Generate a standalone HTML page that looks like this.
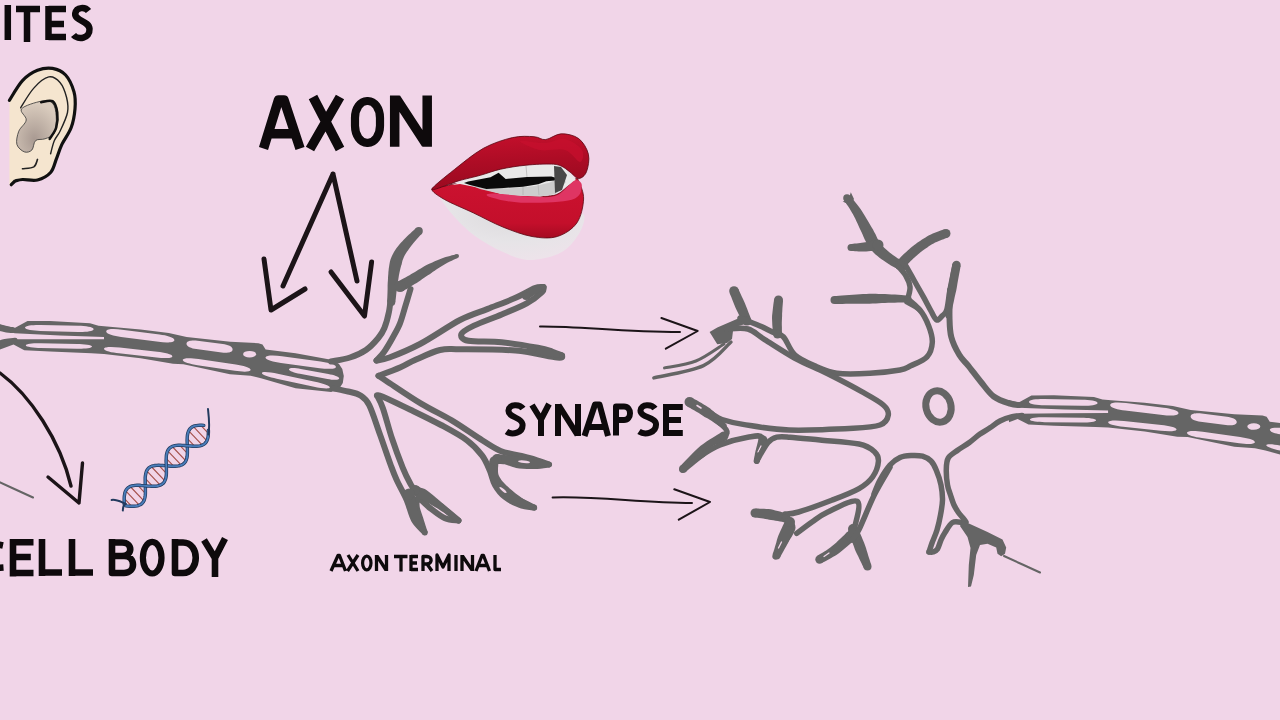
<!DOCTYPE html>
<html><head><meta charset="utf-8"><style>
html,body{margin:0;padding:0;background:#f1d5e8;width:1280px;height:720px;overflow:hidden}
svg{display:block}
</style></head><body>
<svg width="1280" height="720" viewBox="0 0 1280 720">
<rect width="1280" height="720" fill="#f1d5e8"/>
<g id="sheath"><path d="M0.0 324.3 L14.7 328.0 L27.5 321.1 L50.0 321.1 L90.0 323.2 L98.5 325.8 L107.0 326.6 L140.6 329.5 L168.8 333.0 L186.6 337.0 L230.3 341.8 L258.4 343.2 L262.5 344.5 L265.6 349.6 L295.6 353.2 L328.4 359.3 L334.0 360.8 L339.0 364.0 L342.3 369.0 L343.8 376.0 L342.8 383.0 L339.0 389.0 L331.2 392.0 L295.6 388.2 L261.0 378.3 L250.6 375.8 L230.0 374.2 L183.4 364.2 L173.0 363.7 L140.6 358.2 L104.0 354.0 L91.4 353.2 L50.0 351.6 L24.3 350.2 L13.5 344.5 L0.0 349.5 Z" fill="#656565"/>
<path d="M0.0 329.3 L14.7 333.3 L60.0 335.6 L104.0 337.0 L104.0 339.3 L60.0 339.2 L13.0 339.3 L0.0 344.3 Z" fill="#f1d5e8"/>
<path d="M-34.31 0 C-34.31 -2.28 -25.73 -3.04 -18.87 -3.04 L18.87 -3.04 C25.73 -3.04 34.31 -2.28 34.31 0 C34.31 2.28 25.73 3.04 18.87 3.04 L-18.87 3.04 C-25.73 3.04 -34.31 2.28 -34.31 0 Z" fill="#f1d5e8" transform="translate(59.30 328.40) rotate(1.34)"/>
<path d="M-33.11 0 C-33.11 -1.81 -24.83 -2.42 -18.21 -2.42 L18.21 -2.42 C24.83 -2.42 33.11 -1.81 33.11 0 C33.11 1.81 24.83 2.42 18.21 2.42 L-18.21 2.42 C-24.83 2.42 -33.11 1.81 -33.11 0 Z" fill="#f1d5e8" transform="translate(58.90 345.95) rotate(1.12)"/>
<path d="M-34.39 0 C-34.39 -2.76 -25.79 -3.68 -18.91 -3.68 L18.91 -3.68 C25.79 -3.68 34.39 -2.76 34.39 0 C34.39 2.76 25.79 3.68 18.91 3.68 L-18.91 3.68 C-25.79 3.68 -34.39 2.76 -34.39 0 Z" fill="#f1d5e8" transform="translate(140.30 335.75) rotate(7.43)"/>
<path d="M-34.37 0 C-34.37 -2.17 -25.77 -2.89 -18.90 -2.89 L18.90 -2.89 C25.77 -2.89 34.37 -2.17 34.37 0 C34.37 2.17 25.77 2.89 18.90 2.89 L-18.90 2.89 C-25.77 2.89 -34.37 2.17 -34.37 0 Z" fill="#f1d5e8" transform="translate(138.15 352.55) rotate(6.43)"/>
<path d="M-23.26 0 C-23.26 -3.15 -17.45 -4.20 -12.80 -4.20 L12.80 -4.20 C17.45 -4.20 23.26 -3.15 23.26 0 C23.26 3.15 17.45 4.20 12.80 4.20 L-12.80 4.20 C-17.45 4.20 -23.26 3.15 -23.26 0 Z" fill="#f1d5e8" transform="translate(209.55 346.55) rotate(7.78)"/>
<path d="M-34.33 0 C-34.33 -2.36 -25.75 -3.15 -18.88 -3.15 L18.88 -3.15 C25.75 -3.15 34.33 -2.36 34.33 0 C34.33 2.36 25.75 3.15 18.88 3.15 L-18.88 3.15 C-25.75 3.15 -34.33 2.36 -34.33 0 Z" fill="#f1d5e8" transform="translate(216.65 364.90) rotate(8.54)"/>
<path d="M-35.46 0 C-35.46 -2.56 -26.60 -3.41 -19.50 -3.41 L19.50 -3.41 C26.60 -3.41 35.46 -2.56 35.46 0 C35.46 2.56 26.60 3.41 19.50 3.41 L-19.50 3.41 C-26.60 3.41 -35.46 2.56 -35.46 0 Z" fill="#f1d5e8" transform="translate(300.75 362.20) rotate(7.62)"/>
<path d="M-25.54 0 C-25.54 -1.85 -19.15 -2.47 -14.04 -2.47 L14.04 -2.47 C19.15 -2.47 25.54 -1.85 25.54 0 C25.54 1.85 19.15 2.47 14.04 2.47 L-14.04 2.47 C-19.15 2.47 -25.54 1.85 -25.54 0 Z" fill="#f1d5e8" transform="translate(314.10 373.90) rotate(10.61)"/>
<path d="M-34.72 0 C-34.72 -1.85 -26.04 -2.47 -19.09 -2.47 L19.09 -2.47 C26.04 -2.47 34.72 -1.85 34.72 0 C34.72 1.85 26.04 2.47 19.09 2.47 L-19.09 2.47 C-26.04 2.47 -34.72 1.85 -34.72 0 Z" fill="#f1d5e8" transform="translate(295.85 380.25) rotate(12.05)"/>
<ellipse cx="249.6" cy="354.2" rx="6.5" ry="3.3" fill="#f1d5e8"/></g>
<clipPath id="rclip"><rect x="1009" y="300" width="300" height="200"/></clipPath>
<g clip-path="url(#rclip)"><use href="#sheath" transform="translate(1004,74.3) rotate(-0.5 25 329)"/></g>
<path d="M395.3 302.3 L395.5 300.6 L395.8 298.4 L396.1 295.7 L396.4 292.8 L396.8 289.8 L397.2 286.8 L397.6 284.0 L397.9 281.6 L398.3 279.5 L398.6 277.4 L398.9 275.4 L399.3 273.6 L399.6 271.9 L400.0 270.2 L400.4 268.6 L400.8 267.1 L401.2 265.6 L401.7 264.2 L401.9 262.9 L402.2 261.7 L402.5 260.5 L402.9 259.4 L403.4 258.2 L403.9 257.0 L404.5 255.8 L405.2 254.5 L406.0 253.2 L406.9 251.8 L407.9 250.4 L408.9 249.0 L410.0 247.5 L411.1 246.0 L412.3 244.5 L413.7 242.8 L415.2 241.1 L416.7 239.3 L418.3 237.6 L419.6 236.1 L420.8 234.8 L421.7 233.8 L415.9 228.2 L415.0 229.1 L413.7 230.2 L412.2 231.6 L410.5 233.2 L408.7 234.8 L406.9 236.5 L405.2 238.2 L403.7 239.8 L402.4 241.2 L401.1 242.6 L399.8 244.1 L398.6 245.6 L397.4 247.1 L396.2 248.6 L395.1 250.2 L394.1 251.8 L393.2 253.4 L392.4 254.9 L391.7 256.5 L391.1 258.0 L390.5 259.6 L390.0 261.2 L389.7 262.8 L389.4 264.5 L389.1 266.4 L388.8 268.2 L388.6 270.2 L388.4 272.1 L388.3 274.1 L388.1 276.2 L388.0 278.3 L387.9 280.6 L387.7 283.1 L387.6 286.0 L387.6 289.1 L387.5 292.2 L387.4 295.1 L387.4 297.8 L387.3 300.1 L387.3 301.7 Z" fill="#656565"/>
<circle cx="391.3" cy="302.0" r="4.0" fill="#656565"/>
<circle cx="418.8" cy="231.0" r="4.0" fill="#656565"/>
<path d="M402.7 291.3 L403.8 290.7 L405.1 289.8 L406.8 288.9 L408.7 287.7 L410.7 286.6 L412.7 285.3 L414.7 284.1 L416.7 282.9 L418.5 281.7 L420.4 280.4 L422.3 279.1 L424.2 277.8 L426.0 276.6 L427.9 275.3 L429.7 274.2 L431.4 273.0 L433.0 271.8 L434.7 270.7 L436.3 269.5 L437.9 268.5 L439.5 267.4 L441.1 266.4 L442.8 265.4 L444.4 264.5 L446.1 263.5 L447.9 262.6 L449.9 261.6 L451.8 260.7 L453.6 259.8 L455.3 259.0 L456.7 258.4 L457.7 257.9 L456.3 254.1 L455.2 254.4 L453.7 254.9 L451.9 255.3 L450.0 255.9 L447.9 256.5 L445.7 257.1 L443.6 257.8 L441.6 258.5 L439.8 259.2 L437.9 260.0 L436.0 260.7 L434.2 261.5 L432.3 262.4 L430.5 263.2 L428.6 264.1 L426.6 265.0 L424.7 266.0 L422.7 267.2 L420.8 268.4 L418.8 269.6 L416.9 270.8 L415.0 272.0 L413.1 273.1 L411.3 274.1 L409.5 275.2 L407.5 276.3 L405.4 277.4 L403.4 278.4 L401.5 279.5 L399.8 280.4 L398.4 281.1 L397.3 281.7 Z" fill="#656565"/>
<circle cx="400.0" cy="286.5" r="5.5" fill="#656565"/>
<circle cx="457.0" cy="256.0" r="2.0" fill="#656565"/>
<path d="M331.0 361.5 C334.2 360.8 344.2 359.4 350.0 357.5 C355.8 355.6 361.3 353.2 366.0 350.0 C370.7 346.8 375.2 341.7 378.3 338.0 C381.4 334.3 382.6 332.4 384.4 328.0 C386.2 323.6 387.9 317.2 389.0 311.7 C390.1 306.2 390.7 297.8 391.0 295.0" fill="none" stroke="#656565" stroke-width="6" stroke-linecap="round" stroke-linejoin="round"/>
<path d="M410.5 289.0 C409.7 291.8 407.3 299.8 405.5 305.6 C403.7 311.4 402.0 318.5 399.8 323.9 C397.6 329.3 395.1 333.3 392.5 338.0 C389.9 342.7 386.7 348.2 384.0 352.0 C381.3 355.8 377.8 359.1 376.5 360.5" fill="none" stroke="#656565" stroke-width="6" stroke-linecap="round" stroke-linejoin="round"/>
<path d="M376.5 360.5 C378.6 360.0 382.1 360.2 389.4 357.5 C396.6 354.8 408.2 350.2 420.0 344.0 C431.8 337.8 448.7 325.9 460.0 320.0 C471.3 314.1 478.5 312.6 487.8 308.9 C497.1 305.2 507.7 301.3 515.6 297.8 C523.5 294.3 530.4 289.8 535.0 288.0 C539.6 286.2 542.1 287.2 543.5 287.0" fill="none" stroke="#656565" stroke-width="6" stroke-linecap="round" stroke-linejoin="round"/>
<path d="M543.5 287.0 C543.2 287.8 544.8 289.3 542.0 292.0 C539.2 294.7 533.4 299.6 526.7 303.3 C520.0 307.0 510.5 310.7 501.7 314.4 C492.9 318.1 480.6 322.4 473.9 325.6 C467.2 328.9 462.3 331.4 461.4 333.9 C460.5 336.4 461.6 339.4 468.3 340.8 C475.0 342.2 490.1 341.0 501.7 342.2 C513.3 343.4 529.4 346.2 537.8 347.8 C546.2 349.4 548.0 350.2 552.0 351.5 C556.0 352.8 560.3 354.8 562.0 355.5" fill="none" stroke="#656565" stroke-width="6" stroke-linecap="round" stroke-linejoin="round"/>
<path d="M562.0 355.5 C561.2 355.8 564.9 358.3 557.2 357.5 C549.5 356.7 531.8 352.0 515.6 350.6 C499.4 349.2 472.6 349.3 460.0 349.2 C447.4 349.1 447.5 348.2 440.0 350.0 C432.5 351.8 421.6 357.1 415.0 360.0 C408.4 362.9 406.7 364.6 400.6 367.2 C394.5 369.8 382.2 374.4 378.5 375.8" fill="none" stroke="#656565" stroke-width="6" stroke-linecap="round" stroke-linejoin="round"/>
<path d="M378.5 375.8 C379.8 376.6 378.9 376.1 386.0 380.7 C393.1 385.3 410.2 397.0 421.1 403.6 C432.1 410.2 441.5 414.3 451.7 420.4 C461.9 426.5 474.0 435.2 482.2 440.3 C490.4 445.4 494.3 448.4 500.6 451.0 C506.9 453.6 514.3 454.2 520.0 455.6 C525.7 457.0 530.2 458.0 535.0 459.5 C539.8 461.0 546.7 463.7 549.0 464.5" fill="none" stroke="#656565" stroke-width="6" stroke-linecap="round" stroke-linejoin="round"/>
<path d="M549.0 464.5 C546.7 464.8 540.4 465.9 535.0 466.0 C529.6 466.1 523.2 466.2 516.7 465.0 C510.2 463.8 499.9 457.8 496.0 459.0 C492.1 460.2 493.2 468.0 493.5 472.0 C493.8 476.0 495.2 479.2 498.0 483.0 C500.8 486.8 504.0 490.9 510.0 495.0 C516.0 499.1 530.0 505.4 534.0 507.5" fill="none" stroke="#656565" stroke-width="6" stroke-linecap="round" stroke-linejoin="round"/>
<path d="M534.0 507.5 C531.7 507.1 524.8 506.8 520.0 505.0 C515.2 503.2 509.2 500.3 505.0 497.0 C500.8 493.7 497.5 489.4 495.0 485.0 C492.5 480.6 492.0 475.7 489.9 470.8 C487.8 465.9 486.0 460.7 482.2 455.6 C478.4 450.5 473.9 445.4 467.0 440.3 C460.1 435.2 450.4 430.1 441.0 425.0 C431.6 419.9 420.1 414.4 410.4 409.7 C400.7 405.0 388.5 399.1 382.9 396.7 C377.3 394.3 378.0 395.7 377.0 395.5" fill="none" stroke="#656565" stroke-width="6" stroke-linecap="round" stroke-linejoin="round"/>
<path d="M377.0 395.5 C378.0 397.6 380.4 401.0 382.9 408.2 C385.4 415.4 388.8 428.8 392.1 438.8 C395.4 448.7 399.8 460.4 402.8 467.8 C405.8 475.2 408.0 479.3 410.0 483.0 C412.0 486.7 412.8 488.6 415.0 490.0 C417.2 491.4 419.1 489.2 423.3 491.7 C427.5 494.2 434.1 500.2 440.0 505.0 C445.9 509.8 455.4 517.9 458.5 520.5" fill="none" stroke="#656565" stroke-width="6" stroke-linecap="round" stroke-linejoin="round"/>
<path d="M458.5 520.5 C456.2 520.1 449.8 520.4 445.0 518.3 C440.2 516.2 434.4 511.3 430.0 508.0 C425.6 504.7 420.5 498.5 418.3 498.3 C416.1 498.1 416.4 503.4 416.7 506.7 C417.0 510.0 418.7 513.8 420.0 518.0 C421.3 522.2 423.8 529.7 424.5 532.0" fill="none" stroke="#656565" stroke-width="6" stroke-linecap="round" stroke-linejoin="round"/>
<path d="M424.5 532.0 C422.8 530.0 417.0 525.3 414.0 520.0 C411.0 514.7 409.6 506.7 406.7 500.0 C403.8 493.3 399.4 485.9 396.7 480.0 C394.0 474.1 393.4 472.3 390.6 464.7 C387.8 457.1 383.5 444.1 379.9 434.2 C376.3 424.3 372.5 411.6 369.2 405.1 C365.9 398.6 363.5 397.5 360.0 395.2 C356.5 392.9 352.3 392.6 348.0 391.5 C343.7 390.4 336.3 389.0 334.0 388.5" fill="none" stroke="#656565" stroke-width="6" stroke-linecap="round" stroke-linejoin="round"/>
<path d="M528.1 299.4 L528.9 298.9 L529.9 298.1 L531.1 297.3 L532.5 296.3 L533.8 295.3 L535.2 294.4 L536.4 293.6 L537.5 292.9 L538.4 292.3 L539.4 291.8 L540.4 291.3 L541.4 290.9 L542.3 290.5 L543.2 290.1 L543.9 289.8 L544.5 289.6 L542.5 284.4 L542.0 284.6 L541.3 284.8 L540.4 285.0 L539.3 285.3 L538.2 285.7 L537.0 286.1 L535.8 286.6 L534.5 287.1 L533.2 287.7 L531.7 288.5 L530.2 289.3 L528.6 290.1 L527.1 290.9 L525.8 291.6 L524.7 292.2 L523.9 292.6 Z" fill="#656565"/>
<circle cx="526.0" cy="296.0" r="4.0" fill="#656565"/>
<circle cx="543.5" cy="287.0" r="2.8" fill="#656565"/>
<path d="M531.0 353.4 L532.3 353.6 L534.0 353.9 L536.0 354.2 L538.3 354.6 L540.6 354.9 L543.0 355.3 L545.2 355.7 L547.2 356.0 L549.2 356.3 L551.3 356.6 L553.3 356.9 L555.4 357.3 L557.2 357.5 L558.9 357.8 L560.3 358.0 L561.4 358.2 L562.6 352.8 L561.5 352.5 L560.1 352.1 L558.5 351.7 L556.6 351.2 L554.7 350.6 L552.7 350.1 L550.7 349.5 L548.8 349.0 L546.8 348.5 L544.6 347.9 L542.3 347.2 L540.0 346.6 L537.8 346.0 L535.8 345.4 L534.2 344.9 L533.0 344.6 Z" fill="#656565"/>
<circle cx="532.0" cy="349.0" r="4.5" fill="#656565"/>
<circle cx="562.0" cy="355.5" r="2.8" fill="#656565"/>
<path d="M496.6 464.0 L498.3 464.0 L500.6 464.1 L503.3 464.2 L506.3 464.3 L509.6 464.4 L512.9 464.5 L516.3 464.7 L519.6 464.9 L523.1 465.1 L527.1 465.4 L531.3 465.7 L535.6 466.0 L539.6 466.3 L543.3 466.6 L546.4 466.8 L548.7 467.0 L549.3 462.0 L547.0 461.6 L544.0 461.1 L540.3 460.5 L536.3 459.8 L532.1 459.0 L527.9 458.3 L524.0 457.7 L520.4 457.1 L517.1 456.6 L513.7 456.1 L510.3 455.7 L507.1 455.3 L504.1 454.9 L501.4 454.5 L499.1 454.2 L497.4 454.0 Z" fill="#656565"/>
<circle cx="497.0" cy="459.0" r="5.0" fill="#656565"/>
<circle cx="549.0" cy="464.5" r="2.5" fill="#656565"/>
<ellipse cx="524" cy="461.8" rx="6" ry="1.3" fill="#f1d5e8" transform="rotate(6 524 461.8)"/>
<path d="M489.5 460.8 L489.4 461.8 L489.3 463.3 L489.1 465.2 L488.8 467.4 L488.7 469.8 L488.7 472.3 L488.9 474.9 L489.5 477.3 L490.3 479.6 L491.2 481.6 L492.3 483.6 L493.5 485.5 L494.8 487.3 L496.3 489.1 L497.9 490.9 L499.6 492.6 L501.5 494.4 L503.7 496.0 L506.1 497.6 L508.6 499.0 L511.1 500.4 L513.6 501.7 L515.9 503.0 L518.2 504.1 L520.5 505.2 L522.8 506.1 L525.2 507.0 L527.4 507.8 L529.5 508.5 L531.4 509.1 L532.9 509.7 L534.1 510.1 L535.9 505.9 L534.8 505.3 L533.3 504.6 L531.6 503.7 L529.7 502.7 L527.7 501.6 L525.6 500.4 L523.7 499.2 L521.8 497.9 L519.9 496.5 L517.8 495.0 L515.7 493.4 L513.6 491.7 L511.6 490.0 L509.7 488.4 L508.0 486.8 L506.4 485.4 L505.0 484.0 L503.6 482.6 L502.4 481.3 L501.4 479.9 L500.5 478.6 L499.7 477.2 L499.0 475.9 L498.5 474.7 L498.2 473.4 L498.0 471.8 L498.0 469.9 L498.0 468.0 L498.2 466.0 L498.3 464.2 L498.4 462.5 L498.5 461.2 Z" fill="#656565"/>
<circle cx="494.0" cy="461.0" r="4.5" fill="#656565"/>
<circle cx="535.0" cy="508.0" r="2.2" fill="#656565"/>
<ellipse cx="503" cy="490" rx="4.5" ry="1.2" fill="#f1d5e8" transform="rotate(40 503 490)"/>
<path d="M412.3 494.2 L414.4 495.4 L417.1 496.9 L420.4 498.7 L424.0 500.7 L427.8 502.8 L431.5 504.9 L434.9 507.0 L438.0 508.8 L440.8 510.7 L443.7 512.6 L446.6 514.7 L449.3 516.7 L451.9 518.5 L454.2 520.2 L456.1 521.7 L457.6 522.8 L460.4 519.2 L459.1 518.0 L457.3 516.4 L455.2 514.5 L452.8 512.3 L450.2 510.0 L447.5 507.7 L444.8 505.4 L442.0 503.2 L439.0 500.9 L435.7 498.4 L432.2 495.9 L428.6 493.4 L425.2 491.0 L422.1 488.9 L419.6 487.1 L417.7 485.8 Z" fill="#656565"/>
<circle cx="415.0" cy="490.0" r="5.0" fill="#656565"/>
<circle cx="459.0" cy="521.0" r="2.2" fill="#656565"/>
<path d="M403.7 495.4 L404.2 497.0 L404.9 499.1 L405.8 501.7 L406.7 504.6 L407.8 507.7 L408.9 510.7 L410.1 513.7 L411.3 516.5 L412.7 519.1 L414.3 521.8 L416.0 524.4 L417.7 526.9 L419.3 529.2 L420.8 531.3 L422.0 533.0 L422.8 534.3 L427.2 531.7 L426.4 530.3 L425.5 528.4 L424.3 526.2 L423.1 523.7 L421.8 521.1 L420.6 518.5 L419.5 515.9 L418.7 513.5 L417.9 511.0 L417.3 508.2 L416.6 505.2 L416.0 502.2 L415.5 499.2 L415.1 496.6 L414.6 494.3 L414.3 492.6 Z" fill="#656565"/>
<circle cx="409.0" cy="494.0" r="5.5" fill="#656565"/>
<circle cx="425.0" cy="533.0" r="2.5" fill="#656565"/>
<g id="nbody"><path d="M751.1 319.2 L750.6 317.9 L750.0 316.2 L749.2 314.2 L748.3 311.9 L747.4 309.6 L746.5 307.2 L745.6 304.9 L744.8 302.9 L743.9 301.0 L743.0 299.0 L742.0 297.0 L741.1 295.1 L740.3 293.2 L739.5 291.6 L738.9 290.2 L738.4 289.1 L729.6 292.9 L730.1 293.9 L730.6 295.4 L731.3 297.1 L732.0 298.9 L732.8 301.0 L733.6 303.0 L734.4 305.1 L735.2 307.1 L736.1 309.1 L737.2 311.3 L738.3 313.6 L739.4 315.8 L740.5 318.0 L741.5 319.9 L742.3 321.6 L742.9 322.8 Z" fill="#656565"/>
<circle cx="747.0" cy="321.0" r="4.5" fill="#656565"/>
<circle cx="734.0" cy="291.0" r="4.8" fill="#656565"/>
<path d="M782.0 333.8 L782.0 332.6 L781.9 330.9 L781.9 329.0 L781.9 326.9 L781.8 324.7 L781.8 322.4 L781.9 320.2 L782.0 318.1 L782.1 316.0 L782.1 313.6 L782.3 311.0 L782.4 308.4 L782.6 306.0 L782.8 303.7 L782.9 301.8 L783.0 300.4 L774.0 299.6 L773.9 301.0 L773.6 302.8 L773.3 305.1 L773.0 307.6 L772.7 310.2 L772.4 312.9 L772.1 315.4 L772.0 317.9 L772.1 320.2 L772.2 322.6 L772.3 325.0 L772.5 327.3 L772.6 329.5 L772.8 331.4 L772.9 333.0 L773.0 334.2 Z" fill="#656565"/>
<circle cx="777.5" cy="334.0" r="4.5" fill="#656565"/>
<circle cx="778.5" cy="300.0" r="4.5" fill="#656565"/>
<path d="M709.6 332.0 L717.3 327.4 L738.7 318.2 L746.0 316.0 L749.0 323.0 L735.0 327.0 L727.0 329.5 L733.0 331.0 L732.0 339.0 L727.0 343.0 L717.3 344.2 Z" fill="#656565"/>
<path d="M740.0 318.0 C743.3 319.3 754.6 323.7 760.0 326.0 C765.4 328.3 768.4 330.2 772.3 332.0 C776.2 333.8 779.5 332.9 783.3 336.7 C787.1 340.5 789.4 350.0 795.0 355.0 C800.6 360.0 809.8 363.6 816.7 366.7 C823.7 369.8 827.8 372.2 836.7 373.3 C845.6 374.4 859.5 373.9 870.0 373.3 C880.5 372.8 893.2 371.2 900.0 370.0 C906.8 368.8 906.2 368.0 910.7 365.8 C915.2 363.6 923.4 360.7 927.0 356.8 C930.6 352.9 932.0 347.4 932.3 342.3 C932.6 337.2 930.8 331.4 928.7 326.0 C926.6 320.6 923.3 313.9 919.7 309.9 C916.1 305.9 909.1 303.3 907.0 302.0" fill="none" stroke="#656565" stroke-width="5.5" stroke-linecap="round" stroke-linejoin="round"/>
<path d="M726.5 329.0 C730.1 329.0 741.5 327.2 747.9 329.0 C754.3 330.8 756.9 334.7 764.7 339.6 C772.6 344.5 785.8 353.2 795.0 358.3 C804.2 363.4 813.0 366.7 820.0 370.0 C827.0 373.3 829.8 374.7 836.7 378.3 C843.7 381.9 853.9 387.2 861.7 391.7 C869.5 396.1 878.9 401.1 883.3 405.0 C887.7 408.9 888.8 411.7 888.3 415.0 C887.8 418.3 885.8 422.8 880.0 425.0 C874.2 427.2 868.5 427.5 853.3 428.3 C838.1 429.1 807.4 430.6 789.0 430.0 C770.6 429.4 754.2 426.1 743.0 424.4 C731.8 422.6 727.2 421.2 722.0 419.5 C716.8 417.8 715.7 416.2 712.0 414.0 C708.3 411.8 702.0 407.3 700.0 406.0" fill="none" stroke="#656565" stroke-width="5.5" stroke-linecap="round" stroke-linejoin="round"/>
<path d="M724.0 344.0 C719.3 346.8 705.8 357.0 695.9 361.0 C686.0 365.0 669.7 366.8 664.5 367.9" fill="none" stroke="#656565" stroke-width="3.0" stroke-linecap="round" stroke-linejoin="round"/>
<path d="M731.0 342.0 C726.4 345.9 716.4 359.6 703.5 365.6 C690.6 371.6 662.1 375.8 653.8 377.9" fill="none" stroke="#656565" stroke-width="3.4" stroke-linecap="round" stroke-linejoin="round"/>
<path d="M687.1 406.4 L687.9 406.8 L688.9 407.4 L690.2 408.1 L691.6 408.9 L693.0 409.7 L694.5 410.5 L696.0 411.4 L697.4 412.3 L698.8 413.1 L700.2 414.0 L701.7 415.0 L703.2 415.9 L704.6 416.9 L706.2 417.8 L707.8 418.6 L709.3 419.5 L711.0 420.5 L712.8 421.7 L714.6 422.9 L716.5 424.2 L718.3 425.4 L719.9 426.5 L721.2 427.4 L722.2 428.1 L725.8 423.9 L724.9 423.0 L723.8 421.8 L722.5 420.4 L721.0 418.8 L719.4 417.2 L717.8 415.5 L716.2 413.9 L714.7 412.5 L713.2 411.1 L711.7 409.9 L710.2 408.6 L708.7 407.6 L707.1 406.6 L705.6 405.6 L704.1 404.7 L702.6 403.7 L701.1 402.8 L699.5 401.9 L698.0 401.0 L696.4 400.1 L695.0 399.4 L693.8 398.7 L692.7 398.1 L691.9 397.6 Z" fill="#656565"/>
<circle cx="689.5" cy="402.0" r="5.0" fill="#656565"/>
<circle cx="724.0" cy="426.0" r="2.8" fill="#656565"/>
<path d="M697 405.5 L701 408" stroke="#f1d5e8" stroke-width="1.5" stroke-linecap="round"/>
<path d="M716.0 420.0 C717.8 422.1 728.0 428.3 727.0 432.8 C726.0 437.3 717.4 440.9 710.0 447.0 C702.6 453.1 687.1 465.8 682.5 469.5" fill="none" stroke="#656565" stroke-width="5.5" stroke-linecap="round" stroke-linejoin="round"/>
<path d="M721.5 432.3 L719.9 433.3 L717.8 434.5 L715.4 436.0 L712.6 437.8 L709.6 439.6 L706.5 441.6 L703.5 443.7 L700.6 445.8 L697.8 448.2 L694.9 451.0 L691.9 453.9 L689.0 456.9 L686.3 459.8 L683.9 462.3 L681.8 464.5 L680.3 466.1 L685.7 471.9 L687.4 470.5 L689.7 468.6 L692.5 466.3 L695.5 463.8 L698.6 461.3 L701.8 458.7 L704.8 456.4 L707.4 454.2 L709.9 452.1 L712.6 450.0 L715.3 447.9 L718.1 445.9 L720.7 444.0 L723.0 442.3 L725.0 440.8 L726.5 439.7 Z" fill="#656565"/>
<circle cx="724.0" cy="436.0" r="4.5" fill="#656565"/>
<circle cx="683.0" cy="469.0" r="4.0" fill="#656565"/>
<path d="M699 455 L716 445" stroke="#f1d5e8" stroke-width="1.3" stroke-linecap="round"/>
<path d="M682.5 469.5 C685.2 467.4 692.8 461.1 699.0 457.0 C705.2 452.9 711.9 448.3 720.0 445.0 C728.1 441.7 740.8 438.3 747.8 437.2 C754.8 436.1 760.7 434.3 762.2 438.3 C763.7 442.3 757.6 457.2 756.7 461.0" fill="none" stroke="#656565" stroke-width="5.5" stroke-linecap="round" stroke-linejoin="round"/>
<path d="M758.7 438.6 L758.5 439.5 L758.1 440.8 L757.7 442.4 L757.3 444.1 L756.8 445.9 L756.3 447.7 L755.9 449.4 L755.5 451.0 L755.2 452.4 L754.9 453.8 L754.7 455.2 L754.4 456.5 L754.2 457.7 L754.0 458.7 L753.9 459.6 L753.8 460.3 L759.6 461.7 L759.8 461.0 L760.1 460.2 L760.4 459.2 L760.8 458.0 L761.2 456.8 L761.6 455.6 L762.0 454.3 L762.5 453.0 L763.0 451.7 L763.6 450.1 L764.3 448.5 L765.0 446.8 L765.7 445.1 L766.3 443.6 L766.9 442.4 L767.3 441.4 Z" fill="#656565"/>
<circle cx="763.0" cy="440.0" r="4.5" fill="#656565"/>
<circle cx="756.7" cy="461.0" r="3.0" fill="#656565"/>
<path d="M758 452 L761 446" stroke="#f1d5e8" stroke-width="1.3" stroke-linecap="round"/>
<path d="M756.7 461.0 C758.6 458.0 764.5 446.8 767.8 442.8 C771.1 438.8 773.0 438.1 776.7 437.2 C780.4 436.3 782.8 436.7 790.0 437.2 C797.2 437.7 808.5 438.9 820.0 440.0 C831.5 441.1 849.9 442.1 859.0 444.0 C868.1 445.9 871.3 448.8 874.5 451.7 C877.7 454.6 878.7 457.2 878.4 461.4 C878.1 465.6 875.8 472.5 872.6 477.0 C869.4 481.5 865.8 484.7 859.0 488.6 C852.2 492.5 841.8 496.4 831.7 500.3 C821.6 504.2 806.4 509.7 798.6 512.0 C790.8 514.3 787.3 513.7 785.0 514.0" fill="none" stroke="#656565" stroke-width="5.5" stroke-linecap="round" stroke-linejoin="round"/>
<path d="M754.6 517.5 L755.8 517.6 L757.3 517.8 L759.1 518.1 L761.1 518.3 L763.2 518.6 L765.3 518.9 L767.3 519.3 L769.2 519.7 L771.1 520.0 L773.3 520.3 L775.6 520.7 L777.8 521.1 L780.0 521.5 L782.0 521.8 L783.7 522.2 L785.0 522.4 L787.0 513.6 L785.8 513.3 L784.2 512.8 L782.2 512.2 L780.0 511.6 L777.7 511.0 L775.3 510.4 L773.0 509.8 L770.8 509.3 L768.6 509.1 L766.4 509.0 L764.1 508.8 L761.9 508.7 L759.9 508.7 L758.0 508.6 L756.5 508.6 L755.4 508.5 Z" fill="#656565"/>
<circle cx="755.0" cy="513.0" r="4.5" fill="#656565"/>
<circle cx="786.0" cy="518.0" r="4.5" fill="#656565"/>
<path d="M785.0 517.0 C786.3 518.8 793.1 522.8 792.8 527.5 C792.5 532.2 785.9 540.1 783.0 545.0 C780.1 549.9 776.6 554.8 775.3 556.7" fill="none" stroke="#656565" stroke-width="5.5" stroke-linecap="round" stroke-linejoin="round"/>
<path d="M785.3 520.2 L784.7 521.6 L783.9 523.4 L782.9 525.6 L781.8 528.1 L780.6 530.6 L779.5 533.1 L778.4 535.6 L777.6 537.8 L776.9 540.0 L776.3 542.4 L775.6 544.7 L774.9 547.0 L774.3 549.2 L773.7 551.1 L773.2 552.7 L772.8 553.9 L780.2 557.1 L780.8 555.9 L781.6 554.5 L782.6 552.7 L783.7 550.7 L784.9 548.6 L786.1 546.5 L787.3 544.3 L788.4 542.2 L789.4 539.9 L790.3 537.4 L791.1 534.7 L792.0 532.0 L792.8 529.5 L793.6 527.2 L794.2 525.2 L794.7 523.8 Z" fill="#656565"/>
<circle cx="790.0" cy="522.0" r="5.0" fill="#656565"/>
<circle cx="776.5" cy="555.5" r="4.0" fill="#656565"/>
<path d="M778.5 548 L781.5 542" stroke="#f1d5e8" stroke-width="1.3" stroke-linecap="round"/>
<path d="M796.7 533.4 C799.2 531.5 806.8 525.6 812.0 522.0 C817.2 518.4 820.3 515.5 827.8 512.0 C835.3 508.6 852.5 499.0 857.0 501.3 C861.5 503.6 856.6 519.0 855.0 525.6 C853.4 532.2 848.6 538.6 847.3 541.2" fill="none" stroke="#656565" stroke-width="5.5" stroke-linecap="round" stroke-linejoin="round"/>
<path d="M847.3 531.9 L846.1 533.1 L844.5 534.7 L842.6 536.5 L840.5 538.5 L838.3 540.6 L836.1 542.7 L834.0 544.6 L832.1 546.1 L830.3 547.5 L828.2 549.0 L826.1 550.4 L824.0 551.7 L822.0 553.0 L820.1 554.1 L818.5 555.1 L817.3 555.8 L821.7 563.2 L822.8 562.5 L824.4 561.7 L826.3 560.7 L828.5 559.5 L830.8 558.2 L833.2 556.8 L835.6 555.4 L837.9 553.9 L840.2 552.2 L842.6 550.3 L845.0 548.3 L847.4 546.3 L849.7 544.3 L851.7 542.6 L853.4 541.1 L854.7 540.1 Z" fill="#656565"/>
<circle cx="851.0" cy="536.0" r="5.5" fill="#656565"/>
<circle cx="819.5" cy="559.5" r="4.2" fill="#656565"/>
<path d="M824 556.5 L829 553" stroke="#f1d5e8" stroke-width="1.3" stroke-linecap="round"/>
<path d="M848.3 530.8 L848.9 532.4 L849.7 534.7 L850.6 537.4 L851.7 540.3 L852.8 543.4 L853.9 546.5 L854.9 549.4 L856.0 551.9 L857.1 554.3 L858.3 556.6 L859.4 559.0 L860.5 561.2 L861.5 563.3 L862.4 565.2 L863.2 566.8 L863.8 568.0 L871.2 565.0 L870.8 563.7 L870.3 562.1 L869.7 560.1 L869.0 557.9 L868.2 555.5 L867.5 553.0 L866.7 550.5 L866.0 548.1 L865.1 545.5 L864.0 542.6 L862.7 539.6 L861.5 536.6 L860.3 533.7 L859.2 531.1 L858.3 528.9 L857.7 527.2 Z" fill="#656565"/>
<circle cx="853.0" cy="529.0" r="5.0" fill="#656565"/>
<circle cx="867.5" cy="566.5" r="4.0" fill="#656565"/>
<path d="M846.0 536.0 L852.0 524.0 L858.0 536.0 Z" fill="#656565"/>
<path d="M890.0 467.2 C887.4 471.8 879.7 484.1 874.5 494.5 C869.3 504.9 862.8 521.9 859.0 529.5 C855.2 537.1 853.2 538.2 852.0 540.0" fill="none" stroke="#656565" stroke-width="5.5" stroke-linecap="round" stroke-linejoin="round"/>
<path d="M874.0 494.0 C875.0 491.7 877.3 484.8 880.0 480.0 C882.7 475.2 886.7 468.8 890.0 465.0 C893.3 461.2 896.5 459.1 900.0 457.5 C903.5 455.9 907.2 455.7 911.0 455.5 C914.8 455.3 919.2 455.3 922.5 456.2 C925.8 457.2 928.7 458.7 931.0 461.0 C933.3 463.3 934.6 466.0 936.2 470.0 C937.9 474.0 940.0 480.0 941.0 485.0 C942.0 490.0 942.6 495.0 942.5 500.0 C942.4 505.0 941.4 510.0 940.5 515.0 C939.6 520.0 938.4 525.3 937.0 530.0 C935.6 534.7 933.3 539.3 932.0 543.0 C930.7 546.7 929.5 550.5 929.0 552.0" fill="none" stroke="#656565" stroke-width="5.5" stroke-linecap="round" stroke-linejoin="round"/>
<path d="M929.0 552.0 C929.7 552.0 931.6 552.5 933.0 552.0 C934.4 551.5 936.2 551.0 937.5 549.0 C938.8 547.0 939.8 542.8 941.0 540.0 C942.2 537.2 943.1 535.4 945.0 532.5 C946.9 529.6 949.6 524.2 952.5 522.5 C955.4 520.8 960.8 522.5 962.5 522.5" fill="none" stroke="#656565" stroke-width="5.5" stroke-linecap="round" stroke-linejoin="round"/>
<path d="M1022.0 415.5 C1020.4 415.7 1015.9 415.8 1012.2 416.7 C1008.5 417.6 1003.7 419.1 1000.0 421.0 C996.3 422.9 993.3 425.6 990.0 427.8 C986.7 430.0 983.4 431.6 980.0 434.0 C976.6 436.4 973.1 439.8 969.4 442.5 C965.7 445.2 961.5 447.4 958.0 450.0 C954.5 452.6 950.2 454.7 948.3 458.0 C946.3 461.3 946.4 465.5 946.3 470.0 C946.2 474.5 946.8 480.9 947.5 485.0 C948.2 489.1 949.2 491.1 950.3 494.4 C951.4 497.7 952.6 502.0 954.0 505.0 C955.4 508.0 956.9 510.3 958.4 512.5 C959.9 514.7 961.7 516.4 963.0 518.0 C964.3 519.6 965.5 521.3 966.0 522.0" fill="none" stroke="#656565" stroke-width="5.5" stroke-linecap="round" stroke-linejoin="round"/>
<path d="M962.5 520.5 L970.0 524.0 L987.5 532.0 L1002.5 539.5 L1006.2 547.5 L1005.0 553.8 L1001.2 556.2 L997.5 553.8 L996.2 547.5 L987.5 543.8 L980.0 545.0 L976.2 555.0 L973.8 575.0 L971.0 586.5 L968.0 587.0 L968.8 565.0 L970.5 548.0 L967.5 537.0 L960.0 526.0 Z" fill="#656565"/>
<path d="M1004.0 556.0 C1010.0 558.8 1034.0 569.8 1040.0 572.5" fill="none" stroke="#656565" stroke-width="2.0" stroke-linecap="round" stroke-linejoin="round"/>
<path d="M950.0 290.0 C949.9 294.5 949.3 309.2 949.5 317.0 C949.7 324.8 949.6 330.7 951.3 337.0 C952.9 343.3 956.5 350.2 959.4 355.0 C962.2 359.8 964.8 361.3 968.4 365.8 C972.0 370.3 976.8 376.9 981.0 382.0 C985.2 387.1 988.9 392.9 993.7 396.5 C998.5 400.1 1005.7 402.3 1010.0 403.7 C1014.3 405.1 1017.8 404.8 1019.4 405.0" fill="none" stroke="#656565" stroke-width="6" stroke-linecap="round" stroke-linejoin="round"/>
<path d="M842.6 201.5 L848.5 200.0 L850.8 192.2 L854.0 199.0 L850.0 205.0 Z" fill="#656565"/>
<path d="M844.0 200.2 L844.7 201.3 L845.7 202.8 L846.8 204.5 L848.1 206.3 L849.4 208.3 L850.7 210.4 L851.9 212.4 L853.1 214.4 L854.1 216.4 L855.2 218.6 L856.3 220.9 L857.4 223.2 L858.4 225.6 L859.5 228.0 L860.6 230.3 L861.7 232.6 L862.7 234.8 L863.6 237.0 L864.6 239.3 L865.8 241.5 L867.1 243.8 L868.4 246.1 L869.9 248.3 L871.6 250.5 L873.5 252.5 L875.5 254.4 L877.5 256.1 L879.5 257.7 L881.5 259.2 L883.5 260.6 L885.3 261.8 L887.1 263.0 L889.0 264.2 L890.9 265.4 L892.8 266.4 L894.6 267.4 L896.3 268.2 L897.7 268.9 L898.9 269.5 L899.8 269.9 L904.2 262.1 L903.2 261.5 L902.0 260.8 L900.6 260.0 L899.1 259.1 L897.5 258.2 L895.9 257.1 L894.4 256.1 L892.9 255.0 L891.3 253.7 L889.6 252.4 L887.9 251.0 L886.2 249.5 L884.5 248.1 L883.0 246.6 L881.6 245.0 L880.4 243.5 L879.3 241.9 L878.3 240.2 L877.3 238.3 L876.4 236.2 L875.4 234.1 L874.2 231.9 L873.0 229.6 L871.7 227.4 L870.4 225.2 L869.1 223.0 L867.8 220.7 L866.4 218.4 L865.1 216.2 L863.7 213.9 L862.3 211.7 L860.9 209.6 L859.4 207.5 L857.9 205.4 L856.3 203.4 L854.7 201.4 L853.2 199.6 L851.9 198.1 L850.8 196.8 L850.0 195.8 Z" fill="#656565"/>
<circle cx="847.0" cy="198.0" r="3.8" fill="#656565"/>
<circle cx="902.0" cy="266.0" r="4.5" fill="#656565"/>
<path d="M877.2 239.6 L876.1 239.8 L874.6 240.1 L872.9 240.6 L871.1 241.0 L869.1 241.4 L867.1 241.9 L865.3 242.2 L863.6 242.6 L861.9 242.8 L860.2 243.1 L858.3 243.3 L856.5 243.5 L854.8 243.6 L853.2 243.8 L851.9 243.9 L850.9 244.0 L851.1 251.0 L852.1 251.0 L853.4 251.1 L855.0 251.2 L856.7 251.3 L858.6 251.4 L860.6 251.4 L862.5 251.5 L864.4 251.4 L866.3 251.4 L868.4 251.3 L870.5 251.1 L872.6 250.9 L874.5 250.8 L876.3 250.6 L877.7 250.5 L878.8 250.4 Z" fill="#656565"/>
<circle cx="878.0" cy="245.0" r="5.5" fill="#656565"/>
<circle cx="851.0" cy="247.5" r="3.5" fill="#656565"/>
<path d="M903.6 268.5 L904.3 267.7 L905.4 266.6 L906.6 265.4 L907.9 264.0 L909.3 262.5 L910.7 261.1 L912.1 259.8 L913.3 258.6 L914.5 257.5 L915.6 256.4 L916.8 255.4 L917.9 254.4 L919.1 253.5 L920.2 252.5 L921.5 251.5 L922.8 250.6 L924.2 249.5 L925.7 248.5 L927.3 247.4 L928.8 246.3 L930.4 245.3 L932.0 244.3 L933.6 243.4 L935.1 242.6 L936.6 241.9 L938.3 241.2 L940.1 240.4 L941.9 239.8 L943.6 239.2 L945.1 238.6 L946.5 238.1 L947.5 237.7 L944.5 229.3 L943.5 229.6 L942.2 230.0 L940.6 230.6 L938.8 231.2 L936.8 231.9 L934.8 232.7 L932.8 233.5 L930.9 234.4 L929.1 235.3 L927.3 236.3 L925.5 237.4 L923.8 238.4 L922.0 239.6 L920.4 240.7 L918.8 241.8 L917.2 242.8 L915.7 243.9 L914.3 245.0 L913.0 246.0 L911.7 247.0 L910.5 248.1 L909.2 249.2 L908.0 250.3 L906.7 251.4 L905.3 252.7 L903.8 254.1 L902.3 255.6 L900.8 257.1 L899.5 258.4 L898.2 259.7 L897.2 260.7 L896.4 261.5 Z" fill="#656565"/>
<circle cx="900.0" cy="265.0" r="5.0" fill="#656565"/>
<circle cx="946.0" cy="233.5" r="4.5" fill="#656565"/>
<path d="M898.0 266.0 C899.3 267.7 904.0 272.6 906.0 276.0 C908.0 279.4 909.6 283.2 910.0 286.7 C910.4 290.2 908.6 295.3 908.3 297.0" fill="none" stroke="#656565" stroke-width="5.5" stroke-linecap="round" stroke-linejoin="round"/>
<path d="M906.0 266.0 C907.5 268.7 912.1 276.9 915.0 282.0 C917.9 287.1 920.6 291.9 923.3 296.7 C926.0 301.5 928.8 307.1 931.0 311.0 C933.2 314.9 934.9 319.2 936.7 320.0 C938.5 320.8 940.3 317.7 942.0 316.0 C943.7 314.3 945.4 314.3 946.7 310.0 C948.0 305.7 948.6 297.5 950.0 290.0 C951.4 282.5 954.2 269.2 955.0 265.0" fill="none" stroke="#656565" stroke-width="5.5" stroke-linecap="round" stroke-linejoin="round"/>
<path d="M952.3 264.2 L952.0 266.2 L951.5 268.7 L950.9 271.7 L950.3 275.1 L949.7 278.7 L949.0 282.4 L948.4 285.9 L947.8 289.3 L947.5 292.7 L947.1 296.5 L946.8 300.3 L946.5 304.1 L946.2 307.7 L945.9 310.9 L945.7 313.6 L945.5 315.6 L950.5 316.4 L950.9 314.4 L951.5 311.7 L952.2 308.6 L953.0 305.1 L953.8 301.4 L954.6 297.6 L955.4 294.0 L956.2 290.7 L956.8 287.4 L957.4 283.8 L958.0 280.2 L958.7 276.6 L959.3 273.3 L959.9 270.2 L960.3 267.7 L960.7 265.8 Z" fill="#656565"/>
<circle cx="956.5" cy="265.0" r="4.2" fill="#656565"/>
<circle cx="948.0" cy="316.0" r="2.5" fill="#656565"/>
<path d="M834.7 304.0 L836.6 304.0 L839.3 303.9 L842.4 303.9 L845.9 303.8 L849.5 303.8 L853.2 303.7 L856.8 303.7 L860.1 303.7 L863.3 303.7 L866.5 303.7 L869.6 303.7 L872.8 303.6 L875.9 303.4 L879.0 303.2 L882.0 303.1 L885.0 302.9 L888.1 302.8 L891.4 302.7 L894.7 302.7 L898.0 302.6 L901.0 302.6 L903.8 302.6 L906.1 302.5 L907.9 302.5 L908.1 295.5 L906.3 295.4 L904.0 295.2 L901.3 295.0 L898.2 294.8 L894.9 294.6 L891.5 294.4 L888.2 294.2 L885.0 294.1 L881.9 293.9 L878.8 293.9 L875.7 293.8 L872.5 293.7 L869.4 293.8 L866.2 294.0 L863.0 294.1 L859.9 294.3 L856.5 294.5 L852.9 294.7 L849.2 295.0 L845.5 295.2 L842.0 295.5 L838.9 295.7 L836.3 295.9 L834.3 296.0 Z" fill="#656565"/>
<circle cx="834.5" cy="300.0" r="4.0" fill="#656565"/>
<circle cx="908.0" cy="299.0" r="3.5" fill="#656565"/>
<path d="M908.0 299.0 C909.2 300.0 913.0 303.2 915.0 305.0 C917.0 306.8 918.9 309.1 919.7 309.9" fill="none" stroke="#656565" stroke-width="5.5" stroke-linecap="round" stroke-linejoin="round"/>
<ellipse cx="938.5" cy="406.5" rx="12.5" ry="15.8" fill="none" stroke="#656565" stroke-width="7" transform="rotate(-14 938.5 406.5)"/></g>
<use href="#nbody" transform="translate(-1007,-75)"/>
<defs><radialGradient id="conch" cx="0.45" cy="0.75" r="0.7"><stop offset="0" stop-color="#a99a92"/><stop offset="1" stop-color="#d9cbbd"/></radialGradient><linearGradient id="lipshade" x1="0" y1="0" x2="0" y2="1"><stop offset="0" stop-color="#a00a20"/><stop offset="1" stop-color="#c8102e"/></linearGradient></defs>
<path d="M9.4 100.3 C11.6 97.0 17.8 85.6 22.5 80.6 C27.2 75.6 32.5 72.3 37.5 70.3 C42.5 68.3 47.8 67.6 52.5 68.4 C57.2 69.2 62.0 71.1 65.6 75.0 C69.2 78.9 72.4 86.3 74.0 91.9 C75.6 97.5 75.5 102.8 75.0 108.8 C74.5 114.7 73.4 121.6 71.2 127.5 C69.1 133.4 64.4 139.1 61.9 144.4 C59.4 149.7 58.1 154.7 56.2 159.4 C54.4 164.1 53.7 169.1 50.6 172.5 C47.5 175.9 42.2 178.8 37.5 180.0 C32.8 181.2 26.2 179.3 22.5 179.5 C18.8 179.7 16.9 180.1 15.0 181.0 C13.1 181.9 11.9 184.1 11.2 184.7 L9.4 184.7 Z" fill="#f5e5cf"/>
<path d="M9.4 100.3 C11.6 97.0 17.8 85.6 22.5 80.6 C27.2 75.6 32.5 72.3 37.5 70.3 C42.5 68.3 47.8 67.6 52.5 68.4 C57.2 69.2 62.0 71.1 65.6 75.0 C69.2 78.9 72.4 86.3 74.0 91.9 C75.6 97.5 75.5 102.8 75.0 108.8 C74.5 114.7 73.4 121.6 71.2 127.5 C69.1 133.4 64.4 139.1 61.9 144.4 C59.4 149.7 58.1 154.7 56.2 159.4 C54.4 164.1 53.7 169.1 50.6 172.5 C47.5 175.9 42.2 178.8 37.5 180.0 C32.8 181.2 26.2 179.3 22.5 179.5 C18.8 179.7 16.2 180.8 15.0 181.0 L11.25 184.7" fill="none" stroke="#111" stroke-width="3.2" stroke-linecap="round" stroke-linejoin="round"/>
<path d="M20.6 107.8 C22.8 104.5 29.1 93.2 33.8 88.1 C38.4 82.9 44.4 77.8 48.8 76.9 C53.1 76.0 57.0 79.1 60.0 82.5 C63.0 85.9 65.3 92.5 66.6 97.5 C67.8 102.5 68.6 106.9 67.5 112.5 C66.4 118.1 62.2 126.6 60.0 131.2 C57.8 135.9 56.0 136.8 54.4 140.6 C52.8 144.3 51.2 151.6 50.6 153.8" fill="none" stroke="#222" stroke-width="1.4" stroke-linecap="round" stroke-linejoin="round"/>
<path d="M21.6 108.8 C24.1 105.6 36.1 102.2 41.2 101.2 C46.4 100.3 50.0 100.6 52.5 103.1 C55.0 105.6 55.9 111.2 56.2 116.2 C56.6 121.2 56.3 129.3 54.4 133.1 C52.5 136.8 48.1 137.5 45.0 138.8 C41.9 140.0 37.8 138.7 35.6 140.6 C33.4 142.5 33.8 148.1 31.9 150.0 C30.0 151.9 26.9 152.8 24.4 151.9 C21.9 151.0 17.8 147.8 16.9 144.4 C16.0 141.0 17.2 135.3 18.8 131.2 C20.3 127.2 25.8 123.8 26.2 120.0 C26.7 116.2 19.1 111.9 21.6 108.8 Z" fill="url(#conch)" stroke="#333" stroke-width="0.8"/>
<path d="M41.2 102.2 C43.1 102.0 49.8 99.5 52.5 101.2 C55.2 103.0 56.6 108.1 57.2 112.5 C57.8 116.9 57.5 123.1 56.2 127.5 C55.0 131.9 50.8 136.9 49.7 138.8" fill="none" stroke="#111" stroke-width="2.6" stroke-linecap="round" stroke-linejoin="round"/>
<path d="M22.5 168.8 C24.4 168.4 31.2 168.5 33.8 166.9 C36.2 165.3 36.9 160.7 37.5 159.4" fill="none" stroke="#222" stroke-width="1.6" stroke-linecap="round" stroke-linejoin="round"/>
<path d="M131.7 506.3 L124.2 498.4" fill="none" stroke="#a34e48" stroke-width="1.1" stroke-linecap="butt" stroke-linejoin="round"/>
<path d="M139.3 505.2 L125.7 490.9" fill="none" stroke="#a34e48" stroke-width="1.1" stroke-linecap="butt" stroke-linejoin="round"/>
<path d="M143.9 500.8 L130.2 486.5" fill="none" stroke="#a34e48" stroke-width="1.1" stroke-linecap="butt" stroke-linejoin="round"/>
<path d="M145.4 493.3 L137.8 485.3" fill="none" stroke="#a34e48" stroke-width="1.1" stroke-linecap="butt" stroke-linejoin="round"/>
<path d="M145.2 478.4 L152.7 486.3" fill="none" stroke="#a34e48" stroke-width="1.1" stroke-linecap="butt" stroke-linejoin="round"/>
<path d="M146.7 470.8 L160.3 485.1" fill="none" stroke="#a34e48" stroke-width="1.1" stroke-linecap="butt" stroke-linejoin="round"/>
<path d="M151.2 466.5 L164.9 480.8" fill="none" stroke="#a34e48" stroke-width="1.1" stroke-linecap="butt" stroke-linejoin="round"/>
<path d="M158.8 465.3 L166.4 473.3" fill="none" stroke="#a34e48" stroke-width="1.1" stroke-linecap="butt" stroke-linejoin="round"/>
<path d="M173.6 466.2 L166.2 458.4" fill="none" stroke="#a34e48" stroke-width="1.1" stroke-linecap="butt" stroke-linejoin="round"/>
<path d="M181.3 465.1 L167.7 450.8" fill="none" stroke="#a34e48" stroke-width="1.1" stroke-linecap="butt" stroke-linejoin="round"/>
<path d="M185.9 460.8 L172.2 446.5" fill="none" stroke="#a34e48" stroke-width="1.1" stroke-linecap="butt" stroke-linejoin="round"/>
<path d="M187.4 453.3 L179.8 445.3" fill="none" stroke="#a34e48" stroke-width="1.1" stroke-linecap="butt" stroke-linejoin="round"/>
<path d="M187.2 438.4 L194.6 446.2" fill="none" stroke="#a34e48" stroke-width="1.1" stroke-linecap="butt" stroke-linejoin="round"/>
<path d="M188.7 430.8 L202.3 445.1" fill="none" stroke="#a34e48" stroke-width="1.1" stroke-linecap="butt" stroke-linejoin="round"/>
<path d="M193.2 426.4 L206.9 440.8" fill="none" stroke="#a34e48" stroke-width="1.1" stroke-linecap="butt" stroke-linejoin="round"/>
<path d="M200.8 425.3 L208.4 433.3" fill="none" stroke="#a34e48" stroke-width="1.1" stroke-linecap="butt" stroke-linejoin="round"/>
<path d="M125.8 505.9 L127.9 506.1 L130.0 506.2 L131.9 506.3 L133.8 506.2 L135.6 506.1 L137.3 505.8 L138.8 505.3 L140.2 504.7 L141.4 504.0 L142.4 503.0 L143.3 501.9 L144.0 500.6 L144.5 499.2 L144.9 497.6 L145.2 495.8 L145.4 494.0 L145.4 492.0 L145.4 490.0 L145.4 487.9 L145.3 485.8 L145.2 483.7 L145.2 481.6 L145.2 479.6 L145.2 477.6 L145.4 475.7 L145.7 474.0 L146.1 472.4 L146.6 470.9 L147.3 469.7 L148.2 468.5 L149.2 467.6 L150.4 466.8 L151.8 466.2 L153.3 465.8 L155.0 465.5 L156.8 465.4 L158.7 465.3 L160.6 465.4 L162.7 465.5 L164.8 465.6 L166.9 465.8 L169.0 466.0 L171.1 466.2 L173.1 466.2 L175.0 466.2 L176.9 466.1 L178.6 465.9 L180.1 465.5 L181.6 465.0 L182.9 464.3 L184.0 463.4 L184.9 462.4 L185.7 461.2 L186.3 459.8 L186.8 458.3 L187.1 456.6 L187.3 454.8 L187.4 452.9 L187.4 450.9 L187.4 448.8 L187.3 446.7 L187.2 444.6 L187.2 442.5 L187.1 440.4 L187.2 438.4 L187.3 436.5 L187.5 434.7 L187.9 433.0 L188.4 431.5 L189.0 430.2 L189.8 429.0 L190.8 428.0 L191.9 427.1 L193.2 426.4 L194.6 425.9 L196.2 425.6 L198.0 425.4 L199.8 425.3 L201.8 425.3 L203.8 425.4" fill="none" stroke="#223a5e" stroke-width="3.4" stroke-linecap="round" stroke-linejoin="round"/>
<path d="M125.8 505.9 L127.9 506.1 L130.0 506.2 L131.9 506.3 L133.8 506.2 L135.6 506.1 L137.3 505.8 L138.8 505.3 L140.2 504.7 L141.4 504.0 L142.4 503.0 L143.3 501.9 L144.0 500.6 L144.5 499.2 L144.9 497.6 L145.2 495.8 L145.4 494.0 L145.4 492.0 L145.4 490.0 L145.4 487.9 L145.3 485.8 L145.2 483.7 L145.2 481.6 L145.2 479.6 L145.2 477.6 L145.4 475.7 L145.7 474.0 L146.1 472.4 L146.6 470.9 L147.3 469.7 L148.2 468.5 L149.2 467.6 L150.4 466.8 L151.8 466.2 L153.3 465.8 L155.0 465.5 L156.8 465.4 L158.7 465.3 L160.6 465.4 L162.7 465.5 L164.8 465.6 L166.9 465.8 L169.0 466.0 L171.1 466.2 L173.1 466.2 L175.0 466.2 L176.9 466.1 L178.6 465.9 L180.1 465.5 L181.6 465.0 L182.9 464.3 L184.0 463.4 L184.9 462.4 L185.7 461.2 L186.3 459.8 L186.8 458.3 L187.1 456.6 L187.3 454.8 L187.4 452.9 L187.4 450.9 L187.4 448.8 L187.3 446.7 L187.2 444.6 L187.2 442.5 L187.1 440.4 L187.2 438.4 L187.3 436.5 L187.5 434.7 L187.9 433.0 L188.4 431.5 L189.0 430.2 L189.8 429.0 L190.8 428.0 L191.9 427.1 L193.2 426.4 L194.6 425.9 L196.2 425.6 L198.0 425.4 L199.8 425.3 L201.8 425.3 L203.8 425.4" fill="none" stroke="#4a7dba" stroke-width="1.9" stroke-linecap="round" stroke-linejoin="round"/>
<path d="M124.2 504.3 L124.2 502.2 L124.2 500.1 L124.2 498.2 L124.3 496.3 L124.6 494.5 L124.9 492.8 L125.4 491.3 L126.1 490.0 L126.9 488.9 L127.9 487.9 L129.1 487.0 L130.4 486.4 L131.9 485.9 L133.5 485.6 L135.2 485.4 L137.1 485.3 L139.1 485.3 L141.1 485.5 L143.2 485.6 L145.3 485.8 L147.4 486.0 L149.5 486.1 L151.5 486.2 L153.5 486.3 L155.3 486.2 L157.1 486.0 L158.7 485.7 L160.2 485.2 L161.5 484.5 L162.7 483.7 L163.7 482.7 L164.5 481.6 L165.1 480.2 L165.7 478.7 L166.0 477.1 L166.3 475.3 L166.4 473.4 L166.4 471.4 L166.4 469.4 L166.4 467.3 L166.3 465.2 L166.2 463.1 L166.1 461.0 L166.2 459.0 L166.3 457.0 L166.4 455.2 L166.8 453.5 L167.2 451.9 L167.8 450.5 L168.6 449.3 L169.5 448.2 L170.6 447.4 L171.8 446.6 L173.2 446.1 L174.8 445.7 L176.5 445.4 L178.3 445.3 L180.2 445.3 L182.2 445.4 L184.3 445.5 L186.4 445.7 L188.5 445.9 L190.6 446.0 L192.6 446.2 L194.6 446.2 L196.6 446.2 L198.4 446.1 L200.0 445.8 L201.6 445.4 L203.0 444.8 L204.2 444.1 L205.2 443.2 L206.1 442.1 L206.9 440.8 L207.4 439.4 L207.9 437.8 L208.2 436.1 L208.3 434.2 L208.4 432.3 L208.4 430.3" fill="none" stroke="#223a5e" stroke-width="3.4" stroke-linecap="round" stroke-linejoin="round"/>
<path d="M124.2 504.3 L124.2 502.2 L124.2 500.1 L124.2 498.2 L124.3 496.3 L124.6 494.5 L124.9 492.8 L125.4 491.3 L126.1 490.0 L126.9 488.9 L127.9 487.9 L129.1 487.0 L130.4 486.4 L131.9 485.9 L133.5 485.6 L135.2 485.4 L137.1 485.3 L139.1 485.3 L141.1 485.5 L143.2 485.6 L145.3 485.8 L147.4 486.0 L149.5 486.1 L151.5 486.2 L153.5 486.3 L155.3 486.2 L157.1 486.0 L158.7 485.7 L160.2 485.2 L161.5 484.5 L162.7 483.7 L163.7 482.7 L164.5 481.6 L165.1 480.2 L165.7 478.7 L166.0 477.1 L166.3 475.3 L166.4 473.4 L166.4 471.4 L166.4 469.4 L166.4 467.3 L166.3 465.2 L166.2 463.1 L166.1 461.0 L166.2 459.0 L166.3 457.0 L166.4 455.2 L166.8 453.5 L167.2 451.9 L167.8 450.5 L168.6 449.3 L169.5 448.2 L170.6 447.4 L171.8 446.6 L173.2 446.1 L174.8 445.7 L176.5 445.4 L178.3 445.3 L180.2 445.3 L182.2 445.4 L184.3 445.5 L186.4 445.7 L188.5 445.9 L190.6 446.0 L192.6 446.2 L194.6 446.2 L196.6 446.2 L198.4 446.1 L200.0 445.8 L201.6 445.4 L203.0 444.8 L204.2 444.1 L205.2 443.2 L206.1 442.1 L206.9 440.8 L207.4 439.4 L207.9 437.8 L208.2 436.1 L208.3 434.2 L208.4 432.3 L208.4 430.3" fill="none" stroke="#4a7dba" stroke-width="1.9" stroke-linecap="round" stroke-linejoin="round"/>
<path d="M208.3 434.5 C210 428 209 418 208 409" fill="none" stroke="#223a5e" stroke-width="2.0" stroke-linecap="round" stroke-linejoin="round"/>
<path d="M126 504 C121 502 116 499 111.6 500" fill="none" stroke="#223a5e" stroke-width="2.0" stroke-linecap="round" stroke-linejoin="round"/>
<path d="M124 505 C123 507 123 509 122.8 510.5" fill="none" stroke="#223a5e" stroke-width="2.0" stroke-linecap="round" stroke-linejoin="round"/>
<defs><linearGradient id="ulip" x1="0" y1="0" x2="0.15" y2="1"><stop offset="0" stop-color="#c8102d"/><stop offset="0.55" stop-color="#ad0c25"/><stop offset="1" stop-color="#9a0a20"/></linearGradient><linearGradient id="llip" x1="0" y1="0" x2="0" y2="1"><stop offset="0" stop-color="#cc1230"/><stop offset="0.75" stop-color="#c40f2b"/><stop offset="1" stop-color="#a50b22"/></linearGradient><radialGradient id="shad" cx="0.5" cy="0.3" r="0.7"><stop offset="0" stop-color="#dcdadc"/><stop offset="0.6" stop-color="#e6e4e7"/><stop offset="1" stop-color="#ede3ea"/></radialGradient></defs>
<path d="M440.0 194.0 C435.7 194.0 446.2 207.0 452.0 214.0 C457.8 221.0 466.5 229.7 475.0 236.0 C483.5 242.3 493.8 248.0 503.0 252.0 C512.2 256.0 520.2 260.0 530.0 260.0 C539.8 260.0 553.7 256.7 562.0 252.0 C570.3 247.3 576.5 238.3 580.0 232.0 C583.5 225.7 586.3 215.3 583.0 214.0 C579.7 212.7 570.5 221.3 560.0 224.0 C549.5 226.7 533.7 231.7 520.0 230.0 C506.3 228.3 491.3 220.0 478.0 214.0 C464.7 208.0 444.3 194.0 440.0 194.0 Z" fill="url(#shad)"/>
<path d="M431.8 189.2 C431.7 191.4 437.5 195.5 444.5 199.5 C451.5 203.5 463.9 208.4 473.6 213.0 C483.3 217.6 493.1 223.1 502.8 227.0 C512.5 230.9 522.9 234.9 532.0 236.5 C541.1 238.1 549.8 238.8 557.3 236.5 C564.8 234.2 572.4 229.2 576.8 223.0 C581.2 216.8 583.3 205.9 583.6 199.0 C583.9 192.1 580.2 184.7 578.7 181.4 C577.2 178.1 578.4 177.2 574.7 179.4 C571.0 181.6 563.7 191.9 556.4 194.6 C549.1 197.3 539.6 195.8 531.0 195.6 C522.4 195.4 513.1 194.9 504.7 193.6 C496.2 192.2 487.8 189.2 480.3 187.5 C472.9 185.8 465.9 183.7 460.0 183.4 C454.1 183.2 449.7 185.0 445.0 186.0 C440.3 187.0 431.9 186.9 431.8 189.2 Z" fill="url(#llip)" stroke="#5a0612" stroke-width="0.8"/>
<path d="M452.0 185.0 L470.0 178.0 L487.5 170.5 L525.0 165.5 L555.0 164.5 L565.0 168.0 L576.0 180.0 L556.0 194.0 L540.0 196.5 L505.0 195.0 L480.0 188.0 L460.0 184.0 Z" fill="#e9e9e9"/>
<path d="M470.0 185.0 L507.5 188.5 L535.0 186.0 L550.0 182.5 L562.0 176.0 L566.0 182.0 L556.0 194.0 L540.0 196.5 L505.0 195.0 L480.0 189.0 Z" fill="#cdcdcd"/>
<path d="M464.0 183.0 L468.1 181.4 L490.5 177.3 L498.6 172.8 L505.7 179.0 L527.0 177.0 L551.4 176.5 L556.4 178.0 L554.4 180.6 L546.3 181.2 L538.2 184.2 L523.0 186.8 L503.7 188.0 L486.4 189.0 L470.0 185.0 Z" fill="#0a0a0a"/>
<path d="M554.0 166.0 L561.0 167.0 L567.0 175.0 L562.0 190.0 L555.0 193.0 Z" fill="#484848"/>
<path d="M526 166 L527 177 M523 187 L523 195 M538 184 L539 195" fill="none" stroke="#b0b0b0" stroke-width="0.7" stroke-linecap="butt" stroke-linejoin="round"/>
<path d="M492.0 193.5 C498.8 193.4 520.3 196.2 531.0 196.5 C541.7 196.8 549.1 198.2 556.4 195.5 C563.7 192.8 570.5 182.1 574.7 180.5 C578.9 178.9 582.3 182.8 581.8 186.0 C581.3 189.2 581.9 196.9 571.7 199.7 C561.6 202.5 534.5 203.1 520.9 202.7 C507.3 202.2 494.8 198.5 490.0 197.0 C485.2 195.5 485.2 193.6 492.0 193.5 Z" fill="#df3563"/>
<path d="M431.8 189.2 C432.5 186.8 445.6 176.5 454.2 169.7 C462.8 162.9 473.7 153.7 483.4 148.3 C493.1 143.0 504.1 139.5 512.5 137.6 C520.9 135.7 528.5 136.4 534.0 136.7 C539.5 137.0 541.1 140.1 545.6 139.6 C550.1 139.1 555.7 134.0 561.2 133.8 C566.7 133.6 574.2 135.2 578.7 138.6 C583.2 142.0 587.1 148.7 588.4 154.2 C589.7 159.7 588.1 167.6 586.5 171.7 C584.9 175.8 581.5 178.4 578.7 178.5 C576.0 178.6 572.9 174.1 570.0 172.0 C567.1 169.9 564.6 167.5 561.5 166.2 C558.4 164.9 557.3 164.3 551.4 164.1 C545.5 163.9 534.5 164.3 526.0 165.2 C517.5 166.0 508.2 167.5 500.6 169.2 C493.0 170.9 487.1 173.4 480.3 175.3 C473.5 177.2 465.1 179.0 460.0 180.4 C454.9 181.8 454.7 182.5 450.0 184.0 C445.3 185.5 431.1 191.6 431.8 189.2 Z" fill="url(#ulip)" stroke="#5a0612" stroke-width="0.8"/>
<path d="M520.0 141.0 C520.8 139.8 537.5 143.3 545.0 143.0 C552.5 142.7 558.8 137.8 565.0 139.0 C571.2 140.2 579.5 146.2 582.0 150.0 C584.5 153.8 582.8 162.0 580.0 162.0 C577.2 162.0 571.7 152.0 565.0 150.0 C558.3 148.0 547.5 151.5 540.0 150.0 C532.5 148.5 519.2 142.2 520.0 141.0 Z" fill="#c8102d" opacity="0.7"/>
<path d="M7.8 5 L7.8 40 M16 9 L40 9 M27 9 L27 42 M48.5 6 L48.5 40 M48.5 9 L66 9 M48.5 24 L64 24 M48.5 37 L66 37 M88.5 11 C85.5 7 76.5 6.5 75.2 13.5 C74.5 21 89 20.5 89.5 29 C90 38.5 78 40.5 73.5 35" fill="none" stroke="#0e0a0c" stroke-width="6.5" stroke-linecap="butt" stroke-linejoin="round"/>
<path d="M263.5 148.5 L278.5 100 L284 100 L300 148.5 M270 133.8 L295 133.8 M313 97 L340 149 M340 97 L310 149 M394.7 146.8 L394.7 95.5 M427.2 95.5 L427.2 146.8 M396 98 L426 144" fill="none" stroke="#0e0a0c" stroke-width="9.5" stroke-linecap="butt" stroke-linejoin="round"/>
<rect x="355" y="101" width="25" height="41.8" rx="12" ry="17" fill="none" stroke="#0e0a0c" stroke-width="8.2"/>
<path d="M523 408.5 C520 404 509 403.5 508.5 410.5 C508 417.5 521.5 417 522.5 424 C523.5 433 512 435.5 506.5 431.5 M532 405 L541 419.5 L549 404 M541 419 L541 436 M558 436 L558 404 M578 436 L578 404 M558.5 405 L577.5 435 M584.5 436 L595 404.5 L599.5 404.5 L608 436 M589 427 L603.5 427 M616 435.5 L616 406.5 L624 406.5 C632 406.5 632 420 624 420 L616 420 M655 408.5 C652 404 641 403.5 640.5 410.5 C640 417.5 655.5 417 656 424 C656.5 433 645 435.5 639 431.5 M666 404 L666 436 M666 407 L682.8 407 M666 420 L681 420 M666 433 L682.8 433" fill="none" stroke="#0e0a0c" stroke-width="6" stroke-linecap="butt" stroke-linejoin="round"/>
<path d="M-4 544 L3 545.5 M-4 568 L3.5 567.5 M13 539 L13 576.5 M13 542.2 L33.5 542.2 M13 557 L30.8 557 M13 573 L33.5 573 M42 539 L42 576 M42 572.5 L62 572.5 M72 539 L72 576 M72 572.5 L93 572.5 M112 539 L112 573 L124 573 C136 573 136 556 124 556 L112 556 M112 542.5 L122 542.5 C133 542.5 133 556 122 556 M175 539 L175 573 L183 573 C200 573 200 542.5 183 542.5 L175 542.5 M204 540 L215 558 L225 538.5 M215 558 L215 577" fill="none" stroke="#0e0a0c" stroke-width="6.6" stroke-linecap="butt" stroke-linejoin="round"/>
<ellipse cx="152.2" cy="557.7" rx="9.3" ry="15.8" fill="none" stroke="#0e0a0c" stroke-width="6.2"/>
<path d="M331 571 L338 555.5 L339.5 555.5 L345.5 571 M334 565.5 L342.5 565.5 M348 555 L358 571 M358 555 L347.5 571 M376.5 571 L376.5 555 M386.5 571 L386.5 555 M377 556 L386 570 M394 556.5 L407.5 556.5 M401 556.5 L401 571.5 M411 555 L411 571 M411 556.5 L418 556.5 M411 563 L417 563 M411 569.5 L418 569.5 M423 571 L423 556.5 L427 556.5 C432.5 556.5 432.5 564 427 564 L423 564 M427 564 L432 571 M437 571 L437 555 L443 567 L449 555 L449 571 M456 555 L456 571 M462 571 L462 555 M472.5 571 L472.5 555 M462.5 556 L472 570 M476 571 L482 555.5 L483.5 555.5 L489.5 571 M479 565.5 L486.5 565.5 M495 555 L495 569.5 L501 569.5" fill="none" stroke="#0e0a0c" stroke-width="3.3" stroke-linecap="butt" stroke-linejoin="round"/>
<ellipse cx="366.8" cy="563" rx="4.2" ry="6.8" fill="none" stroke="#0e0a0c" stroke-width="3.2"/>
<path d="M333 174 L283 286 M333 174 L357 281" fill="none" stroke="#1c1418" stroke-width="5" stroke-linecap="round" stroke-linejoin="round"/>
<path d="M264 259 L271 310 L305 289" fill="none" stroke="#1c1418" stroke-width="5" stroke-linecap="round" stroke-linejoin="round"/>
<path d="M331 272 L364.5 316 L371.6 262" fill="none" stroke="#1c1418" stroke-width="5" stroke-linecap="round" stroke-linejoin="round"/>
<path d="M0 373 C30 395 60 440 71 486" fill="none" stroke="#1c1418" stroke-width="3.4" stroke-linecap="round" stroke-linejoin="round"/>
<path d="M48 477 L79 503 L82.5 463" fill="none" stroke="#1c1418" stroke-width="3.4" stroke-linecap="round" stroke-linejoin="round"/>
<path d="M540 326.4 C580 326 620 332 680 332 M661.4 318 L697.7 331 L665.8 348.7" fill="none" stroke="#1c1418" stroke-width="2" stroke-linecap="round" stroke-linejoin="round"/>
<path d="M552.6 497.5 C600 496 640 503 692 503 M674.3 489.3 L710 502 L678.8 519.7" fill="none" stroke="#1c1418" stroke-width="2" stroke-linecap="round" stroke-linejoin="round"/>
</svg>
</body></html>
